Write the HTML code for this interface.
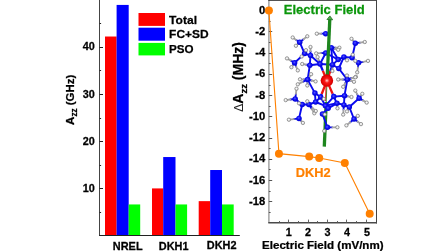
<!DOCTYPE html>
<html><head><meta charset="utf-8"><title>Azz</title>
<style>
html,body{margin:0;padding:0;background:#fff;}
body{width:448px;height:252px;overflow:hidden;}
svg{display:block;font-family:"Liberation Sans",sans-serif;font-weight:bold;}
</style></head><body>
<svg width="448" height="252" viewBox="0 0 448 252">
<rect width="448" height="252" fill="#fff"/>
<!-- left bar chart -->
<rect x="105.0" y="36.52" width="11.60" height="198.78" fill="#ff0000"/><rect x="116.6" y="4.92" width="12.10" height="230.38" fill="#0000ff"/><rect x="128.7" y="204.45" width="11.50" height="30.85" fill="#00ff00"/><rect x="152" y="188.41" width="11.20" height="46.89" fill="#ff0000"/><rect x="163.2" y="157.04" width="12.30" height="78.26" fill="#0000ff"/><rect x="175.5" y="204.45" width="11.60" height="30.85" fill="#00ff00"/><rect x="198.7" y="201.14" width="11.50" height="34.16" fill="#ff0000"/><rect x="210.2" y="170.01" width="11.80" height="65.29" fill="#0000ff"/><rect x="222" y="204.45" width="11.70" height="30.85" fill="#00ff00"/>
<g stroke="#222" stroke-width="1" fill="none">
<line x1="99.5" y1="0" x2="99.5" y2="235.8" stroke="#444"/>
<line x1="99.1" y1="235.5" x2="239.8" y2="235.5"/>
<line x1="99.5" y1="188.50" x2="103.0" y2="188.50"/><line x1="99.5" y1="141.50" x2="103.0" y2="141.50"/><line x1="99.5" y1="94.50" x2="103.0" y2="94.50"/><line x1="99.5" y1="47.50" x2="103.0" y2="47.50"/><line x1="99.5" y1="212.50" x2="101.1" y2="212.50"/><line x1="99.5" y1="165.50" x2="101.1" y2="165.50"/><line x1="99.5" y1="118.50" x2="101.1" y2="118.50"/><line x1="99.5" y1="70.50" x2="101.1" y2="70.50"/><line x1="99.5" y1="23.50" x2="101.1" y2="23.50"/>
</g>
<g font-size="10.4" fill="#000" stroke="#000" stroke-width="0.25"><text transform="translate(94.90,191.98) scale(1.04,1)" text-anchor="end">10</text><text transform="translate(94.90,144.81) scale(1.04,1)" text-anchor="end">20</text><text transform="translate(94.90,97.64) scale(1.04,1)" text-anchor="end">30</text><text transform="translate(94.90,50.47) scale(1.04,1)" text-anchor="end">40</text>
<text transform="translate(127.70,249.60) scale(1.05,1)" text-anchor="middle">NREL</text>
<text transform="translate(173.60,249.70) scale(1.05,1)" text-anchor="middle">DKH1</text>
<text transform="translate(221.70,249.20) scale(1.05,1)" text-anchor="middle">DKH2</text>
</g>
<text transform="translate(73.7,99.8) rotate(-90) scale(0.995,1)" text-anchor="middle" font-size="11.5" fill="#000" stroke="#000" stroke-width="0.25">A<tspan font-size="8.3" dy="3.6">zz</tspan><tspan dy="-3.6"> (GHz)</tspan></text>
<!-- legend -->
<rect x="138.5" y="13" width="26.5" height="12.9" fill="#ff0000"/>
<rect x="138.5" y="27.7" width="26.5" height="13" fill="#0000ff"/>
<rect x="138.5" y="42.9" width="26.5" height="12.5" fill="#00ff00"/>
<g font-size="11.6" fill="#000" stroke="#000" stroke-width="0.25">
<text transform="translate(169.10,23.80) scale(1.04,1)" text-anchor="start">Total</text>
<text transform="translate(169.10,38.40) scale(1.03,1)" text-anchor="start">FC+SD</text>
<text transform="translate(169.10,53.40) scale(1.0,1)" text-anchor="start">PSO</text>
</g>
<!-- right chart -->
<g stroke="#555" stroke-width="1" fill="none">
<line x1="268.9" y1="0" x2="268.9" y2="223" stroke="#8c8c8c" stroke-width="1.2"/>
<line x1="268.3" y1="0.45" x2="377" y2="0.45" stroke="#333" stroke-width="0.9"/>
<line x1="376.5" y1="0" x2="376.5" y2="223.4" stroke="#444"/>
<line x1="268.3" y1="222.75" x2="377" y2="222.75" stroke="#4a4a4a" stroke-width="1.4"/>
<line x1="268.9" y1="10.50" x2="272.2" y2="10.50"/><line x1="268.9" y1="31.50" x2="272.2" y2="31.50"/><line x1="268.9" y1="53.50" x2="272.2" y2="53.50"/><line x1="268.9" y1="74.50" x2="272.2" y2="74.50"/><line x1="268.9" y1="95.50" x2="272.2" y2="95.50"/><line x1="268.9" y1="116.50" x2="272.2" y2="116.50"/><line x1="268.9" y1="138.50" x2="272.2" y2="138.50"/><line x1="268.9" y1="159.50" x2="272.2" y2="159.50"/><line x1="268.9" y1="180.50" x2="272.2" y2="180.50"/><line x1="268.9" y1="201.50" x2="272.2" y2="201.50"/><line x1="268.9" y1="21.50" x2="270.6" y2="21.50"/><line x1="268.9" y1="42.50" x2="270.6" y2="42.50"/><line x1="268.9" y1="63.50" x2="270.6" y2="63.50"/><line x1="268.9" y1="85.50" x2="270.6" y2="85.50"/><line x1="268.9" y1="106.50" x2="270.6" y2="106.50"/><line x1="268.9" y1="127.50" x2="270.6" y2="127.50"/><line x1="268.9" y1="148.50" x2="270.6" y2="148.50"/><line x1="268.9" y1="169.50" x2="270.6" y2="169.50"/><line x1="268.9" y1="191.50" x2="270.6" y2="191.50"/><line x1="268.9" y1="212.50" x2="270.6" y2="212.50"/><line x1="288.50" y1="222.4" x2="288.50" y2="219.6" stroke="#666"/><line x1="308.50" y1="222.4" x2="308.50" y2="219.6" stroke="#666"/><line x1="327.50" y1="222.4" x2="327.50" y2="219.6" stroke="#666"/><line x1="346.50" y1="222.4" x2="346.50" y2="219.6" stroke="#666"/><line x1="366.50" y1="222.4" x2="366.50" y2="219.6" stroke="#666"/><line x1="279.50" y1="222.4" x2="279.50" y2="221.0" stroke="#666"/><line x1="298.50" y1="222.4" x2="298.50" y2="221.0" stroke="#666"/><line x1="317.50" y1="222.4" x2="317.50" y2="221.0" stroke="#666"/><line x1="337.50" y1="222.4" x2="337.50" y2="221.0" stroke="#666"/><line x1="356.50" y1="222.4" x2="356.50" y2="221.0" stroke="#666"/>
</g>
<g font-size="10.4" fill="#000" stroke="#000" stroke-width="0.25"><text transform="translate(265.20,13.70) scale(1.08,1)" text-anchor="end">0</text><text transform="translate(265.20,34.94) scale(1.08,1)" text-anchor="end">-2</text><text transform="translate(265.20,56.18) scale(1.08,1)" text-anchor="end">-4</text><text transform="translate(265.20,77.42) scale(1.08,1)" text-anchor="end">-6</text><text transform="translate(265.20,98.66) scale(1.08,1)" text-anchor="end">-8</text><text transform="translate(265.20,119.90) scale(1.08,1)" text-anchor="end">-10</text><text transform="translate(265.20,141.14) scale(1.08,1)" text-anchor="end">-12</text><text transform="translate(265.20,162.38) scale(1.08,1)" text-anchor="end">-14</text><text transform="translate(265.20,183.62) scale(1.08,1)" text-anchor="end">-16</text><text transform="translate(265.20,204.86) scale(1.08,1)" text-anchor="end">-18</text><text transform="translate(288.70,236.00) scale(1.04,1)" text-anchor="middle">1</text><text transform="translate(308.10,236.00) scale(1.04,1)" text-anchor="middle">2</text><text transform="translate(327.50,236.00) scale(1.04,1)" text-anchor="middle">3</text><text transform="translate(346.90,236.00) scale(1.04,1)" text-anchor="middle">4</text><text transform="translate(367.10,236.00) scale(1.04,1)" text-anchor="middle">5</text></g>
<text transform="translate(242.5,76.9) rotate(-90)" text-anchor="middle" font-size="14" fill="#000" stroke="#000" stroke-width="0.25"><tspan font-weight="normal" font-size="12" stroke="none" fill="#222">Δ</tspan>A<tspan font-size="9.5" dy="4.4">zz</tspan><tspan dy="-4.4"> (MHz)</tspan></text>
<g font-size="11.3" fill="#000" stroke="#000" stroke-width="0.25"><text transform="translate(322.80,249.15) scale(1.025,1)" text-anchor="middle">Electric Field (mV/nm)</text></g>
<g font-size="12.9" fill="#0a960a" stroke="#0a960a" stroke-width="0.25"><text transform="translate(324.30,13.90) scale(1.01,1)" text-anchor="middle">Electric Field</text></g>
<g font-size="12.8" fill="#ff8000" stroke="#ff8000" stroke-width="0.2"><text transform="translate(313.10,177.00) scale(1.0,1)" text-anchor="middle">DKH2</text></g>
<defs>
<radialGradient id="rg" cx="0.5" cy="0.5" r="0.5"><stop offset="0" stop-color="#ffe8e8"/><stop offset="0.12" stop-color="#ff9090"/><stop offset="0.38" stop-color="#f81818"/><stop offset="0.85" stop-color="#e00000"/><stop offset="1" stop-color="#c80000"/></radialGradient>
<radialGradient id="bg" cx="0.45" cy="0.42" r="0.6"><stop offset="0" stop-color="#5a5aff"/><stop offset="0.45" stop-color="#1010f4"/><stop offset="1" stop-color="#0000d0"/></radialGradient>
<radialGradient id="hg" cx="0.45" cy="0.42" r="0.6"><stop offset="0" stop-color="#ffffff"/><stop offset="1" stop-color="#d0d0d0"/></radialGradient>
</defs>
<!-- arrow lower (behind molecule) -->
<line x1="324.3" y1="146.6" x2="326.2" y2="102" stroke="#1e861e" stroke-width="3.3"/>
<line x1="326.2" y1="102" x2="326.9" y2="84" stroke="#1c8c1c" stroke-width="0.9"/>
<!-- molecule -->
<g stroke-width="2.3"><line x1="326.9" y1="80.6" x2="321.7" y2="94.0" stroke="#ee1010"/><line x1="321.7" y1="94.0" x2="320.6" y2="97" stroke="#0a0aee"/><line x1="326.9" y1="80.6" x2="332.6" y2="93.7" stroke="#ee1010"/><line x1="332.6" y1="93.7" x2="333.8" y2="96.6" stroke="#0a0aee"/><line x1="326.9" y1="80.6" x2="322.8" y2="70.6" stroke="#ee1010"/><line x1="322.8" y1="70.6" x2="320" y2="64" stroke="#0a0aee"/><line x1="326.9" y1="80.6" x2="330.3" y2="71.1" stroke="#ee1010"/><line x1="330.3" y1="71.1" x2="332.5" y2="64.7" stroke="#0a0aee"/><line x1="326.1" y1="81" x2="325.5" y2="101" stroke="#e01010" stroke-width="0.9"/></g>
<g stroke="#0a0aee" stroke-width="1.9" stroke-linecap="round"><line x1="299.7" y1="42.2" x2="304.6" y2="53.6"/><line x1="304.6" y1="53.6" x2="310.5" y2="55.5"/><line x1="304.6" y1="53.6" x2="294.6" y2="62.8"/><line x1="310.5" y1="55.5" x2="309.8" y2="65.3"/><line x1="309.8" y1="65.3" x2="320" y2="64"/><line x1="310.5" y1="55.5" x2="320" y2="64"/><line x1="309.8" y1="65.3" x2="307.6" y2="79.6"/><line x1="325.7" y1="53.0" x2="331.3" y2="47.7"/><line x1="325.7" y1="53.0" x2="320" y2="64"/><line x1="331.3" y1="47.7" x2="332.5" y2="64.7"/><line x1="320" y1="64" x2="332.5" y2="64.7"/><line x1="325.7" y1="53.0" x2="338.2" y2="59.6"/><line x1="331.3" y1="47.7" x2="338.2" y2="59.6"/><line x1="355.3" y1="43.2" x2="352.1" y2="57.8"/><line x1="343.9" y1="56.9" x2="352.1" y2="57.8"/><line x1="343.9" y1="56.9" x2="338.2" y2="59.6"/><line x1="338.2" y1="59.6" x2="332.5" y2="64.7"/><line x1="332.5" y1="64.7" x2="338.8" y2="68.5"/><line x1="343.9" y1="56.9" x2="338.8" y2="68.5"/><line x1="338.8" y1="68.5" x2="347.3" y2="79.6"/><line x1="307.6" y1="79.6" x2="314.9" y2="93.1"/><line x1="314.9" y1="93.1" x2="320.6" y2="97"/><line x1="314.9" y1="93.1" x2="315.6" y2="102"/><line x1="320.6" y1="97" x2="315.6" y2="102"/><line x1="315.6" y1="102" x2="308.9" y2="104.5"/><line x1="308.9" y1="104.5" x2="302.2" y2="104.5"/><line x1="302.2" y1="104.5" x2="295.2" y2="98.9"/><line x1="320.6" y1="97" x2="325.4" y2="105.8"/><line x1="315.6" y1="102" x2="325.4" y2="105.8"/><line x1="325.4" y1="105.8" x2="333.8" y2="96.6"/><line x1="347.3" y1="79.6" x2="344.5" y2="95.7"/><line x1="333.8" y1="96.6" x2="344.5" y2="95.7"/><line x1="333.8" y1="96.6" x2="336.9" y2="103.3"/><line x1="344.5" y1="95.7" x2="343.9" y2="104.9"/><line x1="336.9" y1="103.3" x2="343.9" y2="104.9"/><line x1="343.9" y1="104.9" x2="349.3" y2="107"/><line x1="359.1" y1="98.2" x2="349.3" y2="107"/><line x1="302.2" y1="104.5" x2="299" y2="118.4"/><line x1="322.5" y1="114" x2="328.1" y2="108.3"/><line x1="322.5" y1="114" x2="327.4" y2="127.3"/><line x1="349.3" y1="107" x2="354" y2="119"/><line x1="325.4" y1="105.8" x2="328.1" y2="108.3"/><line x1="328.1" y1="108.3" x2="336.9" y2="103.3"/><line x1="325.4" y1="105.8" x2="336.9" y2="103.3"/></g><g stroke-width="1.8" stroke-linecap="round"><line x1="308.9" y1="104.5" x2="308.1" y2="102.9" stroke="#0a0aee"/><line x1="308.1" y1="102.9" x2="307.3" y2="101.3" stroke="#a4a4a4"/><line x1="322.5" y1="114" x2="323.6" y2="114.2" stroke="#0a0aee"/><line x1="323.6" y1="114.2" x2="324.8" y2="114.4" stroke="#a4a4a4"/><line x1="320" y1="64" x2="318.8" y2="60.5" stroke="#0a0aee"/><line x1="318.8" y1="60.5" x2="317.6" y2="57.1" stroke="#a4a4a4"/><line x1="304.6" y1="53.6" x2="303.1" y2="55.0" stroke="#0a0aee"/><line x1="303.1" y1="55.0" x2="301.7" y2="56.5" stroke="#a4a4a4"/><line x1="299.7" y1="42.2" x2="296.2" y2="39.9" stroke="#0a0aee"/><line x1="296.2" y1="39.9" x2="292.7" y2="37.5" stroke="#a4a4a4"/><line x1="299.7" y1="42.2" x2="303.5" y2="39.2" stroke="#0a0aee"/><line x1="303.5" y1="39.2" x2="307.3" y2="36.3" stroke="#a4a4a4"/><line x1="299.7" y1="42.2" x2="297.8" y2="44.0" stroke="#0a0aee"/><line x1="297.8" y1="44.0" x2="295.9" y2="45.8" stroke="#a4a4a4"/><line x1="310.5" y1="55.5" x2="310.5" y2="51.2" stroke="#0a0aee"/><line x1="310.5" y1="51.2" x2="310.5" y2="47" stroke="#a4a4a4"/><line x1="304.6" y1="53.6" x2="305.3" y2="51.9" stroke="#0a0aee"/><line x1="305.3" y1="51.9" x2="306" y2="50.2" stroke="#a4a4a4"/><line x1="325.7" y1="33.7" x2="321.2" y2="33.7" stroke="#0a0aee"/><line x1="321.2" y1="33.7" x2="316.8" y2="33.7" stroke="#a4a4a4"/><line x1="325.7" y1="53.0" x2="320.9" y2="53.2" stroke="#0a0aee"/><line x1="320.9" y1="53.2" x2="316.2" y2="53.4" stroke="#a4a4a4"/><line x1="294.6" y1="62.8" x2="290.8" y2="60.6" stroke="#0a0aee"/><line x1="290.8" y1="60.6" x2="287" y2="58.4" stroke="#a4a4a4"/><line x1="355.3" y1="43.2" x2="353.4" y2="41.0" stroke="#0a0aee"/><line x1="353.4" y1="41.0" x2="351.5" y2="38.8" stroke="#a4a4a4"/><line x1="355.3" y1="43.2" x2="360.1" y2="42.6" stroke="#0a0aee"/><line x1="360.1" y1="42.6" x2="364.8" y2="42" stroke="#a4a4a4"/><line x1="331.3" y1="47.7" x2="335.4" y2="47.7" stroke="#0a0aee"/><line x1="335.4" y1="47.7" x2="339.4" y2="47.7" stroke="#a4a4a4"/><line x1="331.3" y1="47.7" x2="334.8" y2="48.8" stroke="#0a0aee"/><line x1="334.8" y1="48.8" x2="338.2" y2="49.8" stroke="#a4a4a4"/><line x1="352.1" y1="57.8" x2="352.5" y2="56.2" stroke="#0a0aee"/><line x1="352.5" y1="56.2" x2="352.8" y2="54.7" stroke="#a4a4a4"/><line x1="294.6" y1="62.8" x2="293.0" y2="65.0" stroke="#0a0aee"/><line x1="293.0" y1="65.0" x2="291.4" y2="67.2" stroke="#a4a4a4"/><line x1="294.6" y1="62.8" x2="296.2" y2="66.6" stroke="#0a0aee"/><line x1="296.2" y1="66.6" x2="297.8" y2="70.4" stroke="#a4a4a4"/><line x1="309.8" y1="65.3" x2="306.0" y2="64.7" stroke="#0a0aee"/><line x1="306.0" y1="64.7" x2="302.2" y2="64" stroke="#a4a4a4"/><line x1="307.6" y1="79.6" x2="303.8" y2="79.4" stroke="#0a0aee"/><line x1="303.8" y1="79.4" x2="300" y2="79.3" stroke="#a4a4a4"/><line x1="307.6" y1="79.6" x2="309.4" y2="76.9" stroke="#0a0aee"/><line x1="309.4" y1="76.9" x2="311.1" y2="74.2" stroke="#a4a4a4"/><line x1="307.6" y1="79.6" x2="311.6" y2="80.5" stroke="#0a0aee"/><line x1="311.6" y1="80.5" x2="315.6" y2="81.4" stroke="#a4a4a4"/><line x1="358.5" y1="62.8" x2="363.2" y2="61.8" stroke="#0a0aee"/><line x1="363.2" y1="61.8" x2="368" y2="60.9" stroke="#a4a4a4"/><line x1="358.5" y1="62.8" x2="356.9" y2="61.8" stroke="#0a0aee"/><line x1="356.9" y1="61.8" x2="355.3" y2="60.9" stroke="#a4a4a4"/><line x1="358.5" y1="62.8" x2="357.9" y2="67.5" stroke="#0a0aee"/><line x1="357.9" y1="67.5" x2="357.2" y2="72.3" stroke="#a4a4a4"/><line x1="347.3" y1="79.6" x2="351.6" y2="78.2" stroke="#0a0aee"/><line x1="351.6" y1="78.2" x2="355.9" y2="76.8" stroke="#a4a4a4"/><line x1="347.3" y1="79.6" x2="342.8" y2="79.5" stroke="#0a0aee"/><line x1="342.8" y1="79.5" x2="338.2" y2="79.5" stroke="#a4a4a4"/><line x1="347.3" y1="79.6" x2="347.1" y2="77.5" stroke="#0a0aee"/><line x1="347.1" y1="77.5" x2="347" y2="75.5" stroke="#a4a4a4"/><line x1="347.3" y1="79.6" x2="350.6" y2="80.7" stroke="#0a0aee"/><line x1="350.6" y1="80.7" x2="354" y2="81.8" stroke="#a4a4a4"/><line x1="343.9" y1="56.9" x2="345.4" y2="58.6" stroke="#0a0aee"/><line x1="345.4" y1="58.6" x2="347" y2="60.3" stroke="#a4a4a4"/><line x1="332.5" y1="64.7" x2="332.4" y2="67.8" stroke="#0a0aee"/><line x1="332.4" y1="67.8" x2="332.4" y2="71" stroke="#a4a4a4"/><line x1="307.6" y1="79.6" x2="307.5" y2="82.5" stroke="#0a0aee"/><line x1="307.5" y1="82.5" x2="307.3" y2="85.5" stroke="#a4a4a4"/><line x1="307.6" y1="79.6" x2="302.7" y2="81.9" stroke="#0a0aee"/><line x1="302.7" y1="81.9" x2="297.8" y2="84.3" stroke="#a4a4a4"/><line x1="295.2" y1="98.9" x2="295.9" y2="93.8" stroke="#0a0aee"/><line x1="295.9" y1="93.8" x2="296.5" y2="88.7" stroke="#a4a4a4"/><line x1="295.2" y1="98.9" x2="290.4" y2="99.5" stroke="#0a0aee"/><line x1="290.4" y1="99.5" x2="285.7" y2="100.1" stroke="#a4a4a4"/><line x1="302.2" y1="104.5" x2="300.6" y2="103.9" stroke="#0a0aee"/><line x1="300.6" y1="103.9" x2="299" y2="103.3" stroke="#a4a4a4"/><line x1="320.6" y1="97" x2="322.2" y2="98.0" stroke="#0a0aee"/><line x1="322.2" y1="98.0" x2="323.8" y2="98.9" stroke="#a4a4a4"/><line x1="347.3" y1="79.6" x2="351.3" y2="78.4" stroke="#0a0aee"/><line x1="351.3" y1="78.4" x2="355.3" y2="77.3" stroke="#a4a4a4"/><line x1="347.3" y1="79.6" x2="345.2" y2="83.2" stroke="#0a0aee"/><line x1="345.2" y1="83.2" x2="343.2" y2="86.8" stroke="#a4a4a4"/><line x1="344.5" y1="95.7" x2="348.0" y2="96.3" stroke="#0a0aee"/><line x1="348.0" y1="96.3" x2="351.5" y2="97" stroke="#a4a4a4"/><line x1="359.1" y1="98.2" x2="357.2" y2="94.4" stroke="#0a0aee"/><line x1="357.2" y1="94.4" x2="355.3" y2="90.6" stroke="#a4a4a4"/><line x1="359.1" y1="98.2" x2="360.7" y2="96.0" stroke="#0a0aee"/><line x1="360.7" y1="96.0" x2="362.3" y2="93.8" stroke="#a4a4a4"/><line x1="359.1" y1="98.2" x2="362.9" y2="100.4" stroke="#0a0aee"/><line x1="362.9" y1="100.4" x2="366.7" y2="102.6" stroke="#a4a4a4"/><line x1="299" y1="118.4" x2="293.9" y2="119.1" stroke="#0a0aee"/><line x1="293.9" y1="119.1" x2="288.9" y2="119.7" stroke="#a4a4a4"/><line x1="299" y1="118.4" x2="300.9" y2="120.7" stroke="#0a0aee"/><line x1="300.9" y1="120.7" x2="302.9" y2="122.9" stroke="#a4a4a4"/><line x1="308.9" y1="104.5" x2="311.6" y2="108.9" stroke="#0a0aee"/><line x1="311.6" y1="108.9" x2="314.3" y2="113.3" stroke="#a4a4a4"/><line x1="308.9" y1="104.5" x2="312.4" y2="107.8" stroke="#0a0aee"/><line x1="312.4" y1="107.8" x2="315.8" y2="111.0" stroke="#a4a4a4"/><line x1="327.4" y1="127.3" x2="332.4" y2="127.3" stroke="#0a0aee"/><line x1="332.4" y1="127.3" x2="337.4" y2="127.3" stroke="#a4a4a4"/><line x1="327.4" y1="127.3" x2="325.8" y2="129.2" stroke="#0a0aee"/><line x1="325.8" y1="129.2" x2="324.2" y2="131" stroke="#a4a4a4"/><line x1="336.9" y1="103.3" x2="337.2" y2="105.8" stroke="#0a0aee"/><line x1="337.2" y1="105.8" x2="337.5" y2="108.3" stroke="#a4a4a4"/><line x1="343.9" y1="104.9" x2="343.5" y2="109.8" stroke="#0a0aee"/><line x1="343.5" y1="109.8" x2="343.2" y2="114.6" stroke="#a4a4a4"/><line x1="349.3" y1="107" x2="348.1" y2="109.2" stroke="#0a0aee"/><line x1="348.1" y1="109.2" x2="347" y2="111.4" stroke="#a4a4a4"/><line x1="354" y1="119" x2="355.9" y2="117.5" stroke="#0a0aee"/><line x1="355.9" y1="117.5" x2="357.8" y2="115.9" stroke="#a4a4a4"/><line x1="354" y1="119" x2="357.5" y2="121.5" stroke="#0a0aee"/><line x1="357.5" y1="121.5" x2="361" y2="124.1" stroke="#a4a4a4"/><line x1="354" y1="119" x2="350.2" y2="122.2" stroke="#0a0aee"/><line x1="350.2" y1="122.2" x2="346.4" y2="125.4" stroke="#a4a4a4"/></g>
<g fill="url(#bg)"><circle cx="299.7" cy="42.2" r="2.75"/><circle cx="304.6" cy="53.6" r="2.75"/><circle cx="310.5" cy="55.5" r="2.75"/><circle cx="325.7" cy="33.7" r="2.75"/><circle cx="331.3" cy="47.7" r="2.75"/><circle cx="325.7" cy="53.0" r="2.75"/><circle cx="355.3" cy="43.2" r="2.75"/><circle cx="343.9" cy="56.9" r="2.75"/><circle cx="352.1" cy="57.8" r="2.75"/><circle cx="294.6" cy="62.8" r="2.75"/><circle cx="309.8" cy="65.3" r="2.75"/><circle cx="320" cy="64" r="2.75"/><circle cx="307.6" cy="79.6" r="2.75"/><circle cx="332.5" cy="64.7" r="2.75"/><circle cx="338.2" cy="59.6" r="2.75"/><circle cx="338.8" cy="68.5" r="2.75"/><circle cx="358.5" cy="62.8" r="2.75"/><circle cx="347.3" cy="79.6" r="2.75"/><circle cx="295.2" cy="98.9" r="2.75"/><circle cx="314.9" cy="93.1" r="2.75"/><circle cx="320.6" cy="97" r="2.75"/><circle cx="315.6" cy="102" r="2.75"/><circle cx="308.9" cy="104.5" r="2.75"/><circle cx="302.2" cy="104.5" r="2.75"/><circle cx="325.4" cy="105.8" r="2.75"/><circle cx="333.8" cy="96.6" r="2.75"/><circle cx="344.5" cy="95.7" r="2.75"/><circle cx="336.9" cy="103.3" r="2.75"/><circle cx="343.9" cy="104.9" r="2.75"/><circle cx="349.3" cy="107" r="2.75"/><circle cx="359.1" cy="98.2" r="2.75"/><circle cx="328.1" cy="108.3" r="2.75"/><circle cx="299" cy="118.4" r="2.75"/><circle cx="322.5" cy="114" r="2.75"/><circle cx="327.4" cy="127.3" r="2.75"/><circle cx="354" cy="119" r="2.75"/></g>
<g fill="url(#hg)" stroke="#7a7a7a" stroke-width="0.7"><circle cx="307.3" cy="101.3" r="1.7"/><circle cx="324.8" cy="114.4" r="1.7"/><circle cx="317.6" cy="57.1" r="1.7"/><circle cx="301.7" cy="56.5" r="1.7"/><circle cx="292.7" cy="37.5" r="1.7"/><circle cx="307.3" cy="36.3" r="1.7"/><circle cx="295.9" cy="45.8" r="1.7"/><circle cx="310.5" cy="47" r="1.7"/><circle cx="306" cy="50.2" r="1.7"/><circle cx="316.8" cy="33.7" r="1.7"/><circle cx="316.2" cy="53.4" r="1.7"/><circle cx="287" cy="58.4" r="1.7"/><circle cx="351.5" cy="38.8" r="1.7"/><circle cx="364.8" cy="42" r="1.7"/><circle cx="339.4" cy="47.7" r="1.7"/><circle cx="338.2" cy="49.8" r="1.7"/><circle cx="352.8" cy="54.7" r="1.7"/><circle cx="291.4" cy="67.2" r="1.7"/><circle cx="297.8" cy="70.4" r="1.7"/><circle cx="302.2" cy="64" r="1.7"/><circle cx="300" cy="79.3" r="1.7"/><circle cx="311.1" cy="74.2" r="1.7"/><circle cx="315.6" cy="81.4" r="1.7"/><circle cx="368" cy="60.9" r="1.7"/><circle cx="355.3" cy="60.9" r="1.7"/><circle cx="357.2" cy="72.3" r="1.7"/><circle cx="355.9" cy="76.8" r="1.7"/><circle cx="338.2" cy="79.5" r="1.7"/><circle cx="347" cy="75.5" r="1.7"/><circle cx="354" cy="81.8" r="1.7"/><circle cx="347" cy="60.3" r="1.7"/><circle cx="332.4" cy="71" r="1.7"/><circle cx="307.3" cy="85.5" r="1.7"/><circle cx="297.8" cy="84.3" r="1.7"/><circle cx="296.5" cy="88.7" r="1.7"/><circle cx="285.7" cy="100.1" r="1.7"/><circle cx="299" cy="103.3" r="1.7"/><circle cx="323.8" cy="98.9" r="1.7"/><circle cx="355.3" cy="77.3" r="1.7"/><circle cx="343.2" cy="86.8" r="1.7"/><circle cx="351.5" cy="97" r="1.7"/><circle cx="355.3" cy="90.6" r="1.7"/><circle cx="362.3" cy="93.8" r="1.7"/><circle cx="366.7" cy="102.6" r="1.7"/><circle cx="288.9" cy="119.7" r="1.7"/><circle cx="302.9" cy="122.9" r="1.7"/><circle cx="314.3" cy="113.3" r="1.7"/><circle cx="315.8" cy="111.0" r="1.7"/><circle cx="337.4" cy="127.3" r="1.7"/><circle cx="324.2" cy="131" r="1.7"/><circle cx="337.5" cy="108.3" r="1.7"/><circle cx="343.2" cy="114.6" r="1.7"/><circle cx="347" cy="111.4" r="1.7"/><circle cx="357.8" cy="115.9" r="1.7"/><circle cx="361" cy="124.1" r="1.7"/><circle cx="346.4" cy="125.4" r="1.7"/></g>
<!-- arrow upper (in front) -->
<line x1="327.0" y1="82" x2="329.8" y2="19.2" stroke="#1e861e" stroke-width="3.3"/>
<polygon points="329.9,15.9 332.7,19.8 326.9,19.5" fill="#4cae4c" stroke="#146414" stroke-width="0.7"/>
<circle cx="326.9" cy="80.6" r="6.25" fill="url(#rg)"/>
<!-- data -->
<polyline points="268.9,10.6 278.95,153.65 309.2,156.6 319.2,158 344.8,163 369.7,213.8" fill="none" stroke="#ff8000" stroke-width="1.1"/>
<g fill="#ff8000"><circle cx="268.9" cy="10.6" r="4"/><circle cx="278.95" cy="153.65" r="4"/><circle cx="309.2" cy="156.6" r="4"/><circle cx="319.2" cy="158" r="4"/><circle cx="344.8" cy="163" r="4"/><circle cx="369.7" cy="213.8" r="4"/></g>
</svg>
</body></html>
